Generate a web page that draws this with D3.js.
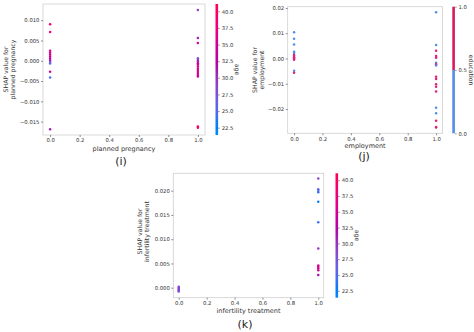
<!DOCTYPE html>
<html><head><meta charset="utf-8">
<script src="https://cdn.jsdelivr.net/npm/d3@7"></script>
<style>body{margin:0;background:#fff}svg{display:block}text{font-family:"DejaVu Sans",sans-serif}</style>
</head><body>
<script>
// ---- data ----
// (i) planned pregnancy: feature value, SHAP value, age
const ppX = [0,0,0,0,0,0,0,0,0,0,0,0,0, 1,1,1,1,1,1,1,1,1,1,1,1,1,1,1,1];
const ppShap = [0.0090,0.0071,0.0025,0.0020,0.0015,0.0010,0.0005,0.0000,-0.0003,-0.0007,-0.0027,-0.0041,-0.0169,
  0.0125,0.0056,0.0044,0.0006,0.0002,-0.0002,-0.0006,-0.0010,-0.0015,-0.0020,-0.0025,-0.0030,-0.0035,-0.0039,-0.0162,-0.0165];
const ppAge = [39,38,36,35,36,35,34,32,27,26,35,25,31, 29,31,35,27,30,31,34,35,36,35,37,36,34,35,40,39];
const ppYTicks = [0.010,0.005,0.000,-0.005,-0.010,-0.015];

// (j) employment: feature value, SHAP value, education
const emX = [0,0,0,0,0,0,0,0,0,0,0,0, 1,1,1,1,1,1,1,1,1,1,1,1,1,1,1,1,1,1];
const emShap = [0.0104,0.0078,0.0055,0.0027,0.0022,0.0014,0.0010,0.0005,0.0000,-0.0005,-0.0048,-0.0056,
  0.0183,0.0053,0.0031,0.0010,0.0003,-0.0017,-0.0023,-0.0028,-0.0072,-0.0081,-0.0102,-0.0112,-0.0131,-0.0195,-0.0217,-0.0246,-0.0271,-0.0273];
const emEdu = [0,0,0,0,0,1,1,1,1,1,0,1, 0,0,1,1,1,0,1,0,1,1,1,1,1,0,0,1,1,1];
const emYTicks = [0.02,0.01,0.00,-0.01,-0.02];

// (k) infertility treatment: feature value, SHAP value, age
const itX = [0,0,0,0,0,0, 1,1,1,1,1,1,1,1,1,1,1,1];
const itShap = [0.0002,0.0000,-0.0002,-0.0004,-0.0006,-0.0008,
  0.0225,0.0203,0.0200,0.0197,0.0177,0.0135,0.0081,0.0046,0.0043,0.0040,0.0036,0.0026];
const itAge = [28,30,27,31,26,29, 29,26,25,24,23,24,30,35,36,35,34,32];
const itYTicks = [0.020,0.015,0.010,0.005,0.000];

const xTicks = [0.0,0.2,0.4,0.6,0.8,1.0];
const ageTicks = [22.5,25.0,27.5,30.0,32.5,35.0,37.5,40.0];
const eduTicks = [0.0,0.5,1.0];

// ---- drawing ----
const W = 474, H = 332;
const svg = d3.select("body").append("svg").attr("width", W).attr("height", H);
const defs = svg.append("defs");
// SHAP-like red_blue map in LCH: blue -> darker purple -> red
function cmap(t) {
  t = Math.max(0, Math.min(1, t));
  const h = 267 + t * 113;
  const c = 70 + t * 20;
  const l = t < 0.5 ? 54 - 14 * (t / 0.5) : 40 + 14 * ((t - 0.5) / 0.5);
  return d3.hcl(h, c, l).formatHex();
}
const spine = "#cfcfcf", tickCol = "#444", txt = "#333";

function panel(o) {
  const g = svg.append("g");
  const x = d3.scaleLinear().domain(o.xDom).range([o.l, o.r]);
  const y = d3.scaleLinear().domain(o.yDom).range([o.b, o.t]);
  g.append("rect").attr("x", o.l).attr("y", o.t).attr("width", o.r - o.l).attr("height", o.b - o.t)
    .attr("fill", "none").attr("stroke", spine).attr("stroke-width", 0.8);
  const xa = g.append("g").attr("transform", `translate(0,${o.b})`)
    .call(d3.axisBottom(x).tickValues(xTicks).tickFormat(d3.format(".1f")).tickSize(2).tickPadding(1.5));
  const ya = g.append("g").attr("transform", `translate(${o.l},0)`)
    .call(d3.axisLeft(y).tickValues(o.yTicks).tickFormat(o.yFmt).tickSize(2).tickPadding(1.5));
  [xa, ya].forEach(a => {
    a.select(".domain").remove();
    a.selectAll("line").attr("stroke", tickCol).attr("stroke-width", 0.6);
    a.selectAll("text").attr("fill", txt).style("font-size", "5.3px").style("font-family", "DejaVu Sans");
  });
  ya.selectAll("text").text(d => o.yFmt(d).replace("-", "\u2212"));
  g.selectAll("circle.pt").data(o.xs.map((v, i) => ({x: v, y: o.ys[i], c: o.cs[i]}))).enter()
    .append("circle").attr("class", "pt")
    .attr("cx", d => x(d.x)).attr("cy", d => y(d.y)).attr("r", 1.25)
    .attr("fill", d => o.color(d.c));
  g.append("text").attr("x", (o.l + o.r) / 2).attr("y", o.xlabY).attr("text-anchor", "middle")
    .attr("fill", txt).style("font-size", "6.5px").text(o.xlabel);
  const cy = (o.t + o.b) / 2 + (o.ylabDy || 0);
  o.ylabel.forEach((s, i) => {
    g.append("text").attr("transform", `translate(${o.ylabX + i * 7},${cy}) rotate(-90)`)
      .attr("text-anchor", "middle").attr("fill", txt).style("font-size", "6.2px").text(s);
  });
  g.append("text").attr("x", o.capX).attr("y", o.capY).attr("text-anchor", "middle")
    .attr("fill", "#222").style("font-size", "11px").text(o.cap);
  const cb = o.cb;
  const cs = d3.scaleLinear().domain(cb.dom).range([o.cbB, o.cbT]);
  const gid = "grad" + o.cap.replace(/\W/g, "");
  const grad = defs.append("linearGradient").attr("id", gid).attr("x1", 0).attr("y1", 1).attr("x2", 0).attr("y2", 0);
  cb.stops.forEach(s => grad.append("stop").attr("offset", s[0]).attr("stop-color", s[1]));
  g.append("rect").attr("x", o.cbX).attr("y", o.cbT).attr("width", 2.6).attr("height", o.cbB - o.cbT)
    .attr("fill", `url(#${gid})`);
  const ca = g.append("g").attr("transform", `translate(${o.cbX + 2.6},0)`)
    .call(d3.axisRight(cs).tickValues(cb.ticks).tickFormat(d3.format(".1f")).tickSize(1.8).tickPadding(1.8));
  ca.select(".domain").remove();
  ca.selectAll("line").attr("stroke", tickCol).attr("stroke-width", 0.5);
  ca.selectAll("text").attr("fill", txt).style("font-size", "5.3px").style("font-family", "DejaVu Sans");
  g.append("text").attr("transform", `translate(${cb.labX},${(o.cbT + o.cbB) / 2}) rotate(90)`)
    .attr("text-anchor", "middle").attr("fill", txt).style("font-size", "6.2px").text(cb.label);
}

const ageDom = [21.4, 41.1];
const ageColor = v => cmap((v - ageDom[0]) / (ageDom[1] - ageDom[0]));
const ageStops = d3.range(0, 1.0001, 0.05).map(t => [t, cmap(t)]);
const eduBlue = "#4f8fe6", eduRed = "#e0207a";

panel({l: 43, r: 205, t: 4, b: 135, xDom: [-0.048, 1.048], yDom: [-0.0183, 0.0140],
  yTicks: ppYTicks, yFmt: d3.format(".3f"), xs: ppX, ys: ppShap, cs: ppAge, color: ageColor,
  xlabel: "planned pregnancy", xlabY: 151, ylabel: ["SHAP value for", "planned pregnancy"], ylabX: 8,
  cap: "(i)", capX: 121, capY: 165,
  cbX: 215.5, cbT: 4, cbB: 135, cb: {dom: ageDom, ticks: ageTicks, stops: ageStops, label: "age", labX: 235}});

panel({l: 287.7, r: 442.5, t: 6.7, b: 133.3, xDom: [-0.045, 1.045], yDom: [-0.0296, 0.0205],
  yTicks: emYTicks, yFmt: d3.format(".2f"), xs: emX, ys: emShap, cs: emEdu, color: v => v ? eduRed : eduBlue,
  xlabel: "employment", xlabY: 148, ylabel: ["SHAP value for", "employment"], ylabX: 257,
  cap: "(j)", capX: 364, capY: 160,
  cbX: 452.3, cbT: 6.7, cbB: 133.3, cb: {dom: [0, 1], ticks: eduTicks,
    stops: [[0, eduBlue], [0.5, eduBlue], [0.5, "#d81b60"], [1, "#d81b60"]], label: "education", labX: 469}});

panel({l: 173.3, r: 323.7, t: 173.3, b: 297.7, xDom: [-0.039, 1.039], yDom: [-0.00206, 0.02359],
  yTicks: itYTicks, yFmt: d3.format(".3f"), xs: itX, ys: itShap, cs: itAge, color: ageColor,
  xlabel: "infertility treatment", xlabY: 312.5, ylabel: ["SHAP value for", "infertility treatment"], ylabX: 142,
  ylabDy: -4,
  cap: "(k)", capX: 245, capY: 328,
  cbX: 335.5, cbT: 173.3, cbB: 297.7, cb: {dom: ageDom, ticks: ageTicks, stops: ageStops, label: "age", labX: 355}});
</script>
</body></html>
